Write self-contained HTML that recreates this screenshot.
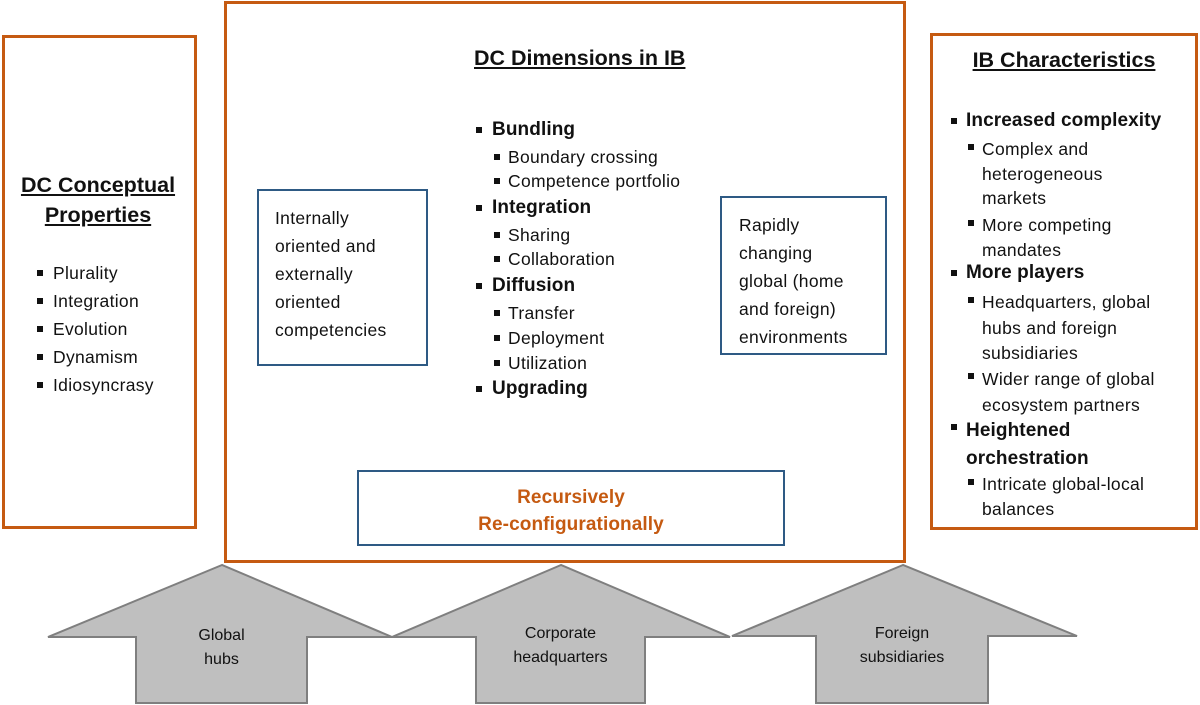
<!DOCTYPE html>
<html><head><style>
body{margin:0;width:1200px;height:705px;position:relative;background:#fff;font-family:"Liberation Sans",sans-serif;color:#111;overflow:hidden}
.b{position:absolute;box-sizing:border-box}
.o{border:3px solid #C55A11}
.u{border:2px solid #2E5A84}
.t{position:absolute;font-size:17.5px;line-height:20px;white-space:nowrap;letter-spacing:0.3px}
.t.bd{font-weight:bold;font-size:19px;letter-spacing:0.1px}
.sq{position:absolute;width:6px;height:6px;background:#111}
.h{position:absolute;font-weight:bold;font-size:21.5px;text-decoration:underline;white-space:nowrap;text-align:center}
.c{position:absolute;font-size:16px;text-align:center;line-height:24px}
</style></head><body>
<svg width="1200" height="705" style="position:absolute;left:0;top:0">
<g fill="#BFBFBF" stroke="#7F7F7F" stroke-width="2">
<polygon points="222,565 48,637 136,637 136,703 307,703 307,637 392,637"/>
<polygon points="561,565 392,637 476,637 476,703 645,703 645,637 730,637"/>
<polygon points="903,565 732,636 816,636 816,703 988,703 988,636 1077,636"/>
</g></svg>
<div class="b o" style="left:2px;top:35px;width:195px;height:494px"></div>
<div class="b o" style="left:224px;top:1px;width:682px;height:562px"></div>
<div class="b o" style="left:930px;top:33px;width:268px;height:497px"></div>
<div class="b u" style="left:257px;top:189px;width:171px;height:177px"></div>
<div class="b u" style="left:720px;top:196px;width:167px;height:159px"></div>
<div class="b u" style="left:357px;top:470px;width:428px;height:76px"></div>

<div class="h" style="left:474px;top:46px;width:200px">DC Dimensions in IB</div>
<div class="h" style="left:964px;top:48px;width:200px">IB Characteristics</div>
<div class="h" style="left:0;top:170px;width:196px;line-height:30px">DC Conceptual<br>Properties</div>

<div class="sq" style="left:37px;top:270px"></div><div class="t" style="left:53px;top:263px">Plurality</div>
<div class="sq" style="left:37px;top:298px"></div><div class="t" style="left:53px;top:291px">Integration</div>
<div class="sq" style="left:37px;top:326px"></div><div class="t" style="left:53px;top:319px">Evolution</div>
<div class="sq" style="left:37px;top:354px"></div><div class="t" style="left:53px;top:347px">Dynamism</div>
<div class="sq" style="left:37px;top:382px"></div><div class="t" style="left:53px;top:375px">Idiosyncrasy</div>

<div class="t" style="left:275px;top:204px;line-height:28px">Internally<br>oriented and<br>externally<br>oriented<br>competencies</div>
<div class="t" style="left:739px;top:211px;line-height:28px">Rapidly<br>changing<br>global (home<br>and foreign)<br>environments</div>
<div class="t bd" style="left:357px;width:428px;text-align:center;top:484px;line-height:27px;color:#C55A11">Recursively<br>Re-configurationally</div>

<div class="sq" style="left:476px;top:127px"></div><div class="t bd" style="left:492px;top:120px">Bundling</div>
<div class="sq" style="left:494px;top:154px"></div><div class="t" style="left:508px;top:147px">Boundary crossing</div>
<div class="sq" style="left:494px;top:178px"></div><div class="t" style="left:508px;top:171px">Competence portfolio</div>
<div class="sq" style="left:476px;top:205px"></div><div class="t bd" style="left:492px;top:198px">Integration</div>
<div class="sq" style="left:494px;top:232px"></div><div class="t" style="left:508px;top:225px">Sharing</div>
<div class="sq" style="left:494px;top:256px"></div><div class="t" style="left:508px;top:249px">Collaboration</div>
<div class="sq" style="left:476px;top:283px"></div><div class="t bd" style="left:492px;top:276px">Diffusion</div>
<div class="sq" style="left:494px;top:310px"></div><div class="t" style="left:508px;top:303px">Transfer</div>
<div class="sq" style="left:494px;top:335px"></div><div class="t" style="left:508px;top:328px">Deployment</div>
<div class="sq" style="left:494px;top:360px"></div><div class="t" style="left:508px;top:353px">Utilization</div>
<div class="sq" style="left:476px;top:386px"></div><div class="t bd" style="left:492px;top:379px">Upgrading</div>

<div class="sq" style="left:951px;top:118px"></div><div class="t bd" style="left:966px;top:111px">Increased complexity</div>
<div class="sq" style="left:968px;top:144px"></div><div class="t" style="left:982px;top:137px;line-height:24.5px">Complex and<br>heterogeneous<br>markets</div>
<div class="sq" style="left:968px;top:220px"></div><div class="t" style="left:982px;top:213px;line-height:25px">More competing<br>mandates</div>
<div class="sq" style="left:951px;top:270px"></div><div class="t bd" style="left:966px;top:263px">More players</div>
<div class="sq" style="left:968px;top:297px"></div><div class="t" style="left:982px;top:290px;line-height:25.5px">Headquarters, global<br>hubs and foreign<br>subsidiaries</div>
<div class="sq" style="left:968px;top:373px"></div><div class="t" style="left:982px;top:366px;line-height:26px">Wider range of global<br>ecosystem partners</div>
<div class="sq" style="left:951px;top:424px"></div><div class="t bd" style="left:966px;top:417px;line-height:28px">Heightened<br>orchestration</div>
<div class="sq" style="left:968px;top:479px"></div><div class="t" style="left:982px;top:472px;line-height:25px">Intricate global-local<br>balances</div>

<div class="c" style="left:136px;width:171px;top:624px">Global<br>hubs</div>
<div class="c" style="left:476px;width:169px;top:622px">Corporate<br>headquarters</div>
<div class="c" style="left:816px;width:172px;top:622px">Foreign<br>subsidiaries</div>
</body></html>
